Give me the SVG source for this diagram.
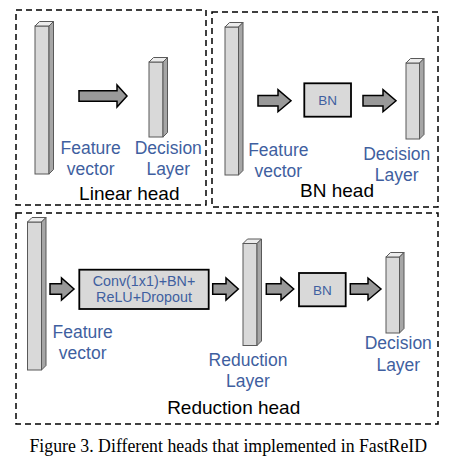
<svg xmlns="http://www.w3.org/2000/svg" width="460" height="471" viewBox="0 0 460 471">
<style>
.frame{fill:none;stroke:#000;stroke-width:1.5;stroke-dasharray:6 4}
.front{fill:#d9d9d9;stroke:#595959;stroke-width:1}
.top{fill:#ececec;stroke:#595959;stroke-width:1;stroke-linejoin:round}
.side{fill:#a6a6a6;stroke:#595959;stroke-width:1;stroke-linejoin:round}
.arrow{fill:#999;stroke:#000;stroke-width:1.5;stroke-linejoin:miter}
.box{fill:#d9d9d9;stroke:#000;stroke-width:1.8}
.lbl{font-family:"Liberation Sans",Arial,sans-serif;font-size:17.5px;fill:#3f5fa0;text-anchor:middle}
.inbox{font-family:"Liberation Sans",Arial,sans-serif;fill:#3f5fa0;text-anchor:middle}
.title{font-family:"Liberation Sans",Arial,sans-serif;font-size:19px;fill:#000;text-anchor:middle}
.cap{font-family:"Liberation Serif","Times New Roman",serif;font-size:17.8px;fill:#000;text-anchor:middle}
</style>
<rect class="frame" x="16" y="10" width="190" height="195"/>
<rect class="frame" x="212" y="12" width="226" height="195"/>
<rect class="frame" x="16" y="213" width="422" height="211"/>

<g id="linear-feature">
<rect class="front" x="35" y="26" width="14" height="148"/>
<polygon class="top" points="35,26 39.5,21.5 53.5,21.5 49,26"/>
<polygon class="side" points="49,26 53.5,21.5 53.5,169.5 49,174"/>
<text class="lbl" x="90.7" y="154">Feature</text>
<text class="lbl" x="90.7" y="175">vector</text>
</g>
<g id="linear-decision">
<rect class="front" x="149" y="62" width="14" height="75"/>
<polygon class="top" points="149,62 153.5,57.5 167.5,57.5 163,62"/>
<polygon class="side" points="163,62 167.5,57.5 167.5,132.5 163,137"/>
<text class="lbl" x="168.3" y="154">Decision</text>
<text class="lbl" x="168.3" y="175">Layer</text>
</g>
<text class="title" x="129.3" y="199.5">Linear head</text>

<g id="bn-feature">
<rect class="front" x="225" y="27" width="13.5" height="148"/>
<polygon class="top" points="225,27 229.5,22.5 243,22.5 238.5,27"/>
<polygon class="side" points="238.5,27 243,22.5 243,170.5 238.5,175"/>
<text class="lbl" x="278.3" y="156">Feature</text>
<text class="lbl" x="278.3" y="176.7">vector</text>
</g>
<g id="bn-bn">
<rect class="box" x="304.3" y="83.3" width="46.7" height="33.4"/>
<text class="inbox" x="327.7" y="104.5" font-size="13.5">BN</text>
</g>
<g id="bn-decision">
<rect class="front" x="406" y="63" width="13.5" height="76"/>
<polygon class="top" points="406,63 410.5,58.5 424,58.5 419.5,63"/>
<polygon class="side" points="419.5,63 424,58.5 424,134.5 419.5,139"/>
<text class="lbl" x="396.7" y="160">Decision</text>
<text class="lbl" x="396.7" y="180.7">Layer</text>
</g>
<text class="title" x="337" y="197.3">BN head</text>

<g id="red-feature">
<rect class="front" x="27.5" y="222" width="14" height="148"/>
<polygon class="top" points="27.5,222 32,217.5 46,217.5 41.5,222"/>
<polygon class="side" points="41.5,222 46,217.5 46,365.5 41.5,370"/>
<text class="lbl" x="82.7" y="337.7">Feature</text>
<text class="lbl" x="82.7" y="359">vector</text>
</g>
<g id="red-conv">
<rect class="box" x="79.3" y="269.7" width="129.4" height="39.3"/>
<text class="inbox" x="144" y="286.3" font-size="14.3">Conv(1x1)+BN+</text>
<text class="inbox" x="144" y="302.3" font-size="14.3">ReLU+Dropout</text>
</g>
<g id="red-reduction">
<rect class="front" x="243" y="243.5" width="14" height="102"/>
<polygon class="top" points="243,243.5 247.5,239 261.5,239 257,243.5"/>
<polygon class="side" points="257,243.5 261.5,239 261.5,341 257,345.5"/>
<text class="lbl" x="248" y="366">Reduction</text>
<text class="lbl" x="248" y="386.7">Layer</text>
</g>
<g id="red-bn">
<rect class="box" x="299" y="273" width="46.7" height="33.3"/>
<text class="inbox" x="322.3" y="294.5" font-size="13.5">BN</text>
</g>
<g id="red-decision">
<rect class="front" x="386" y="257" width="13.5" height="76"/>
<polygon class="top" points="386,257 390.5,252.5 404,252.5 399.5,257"/>
<polygon class="side" points="399.5,257 404,252.5 404,328.5 399.5,333"/>
<text class="lbl" x="398.3" y="349">Decision</text>
<text class="lbl" x="398.3" y="371">Layer</text>
</g>
<text class="title" x="233.7" y="414">Reduction head</text>

<g id="connectors">
<path class="arrow" d="M79,90.7 H117 V85 L127,96 L117,107 V101.3 H79 Z"/>
<path class="arrow" d="M258,95.4 H278 V89.7 L291,100.7 L278,111.7 V106 H258 Z"/>
<path class="arrow" d="M363,95.4 H383 V89.7 L396,100.7 L383,111.7 V106 H363 Z"/>
<path class="arrow" d="M50,283.7 H61.5 V278 L74,289 L61.5,300 V294.3 H50 Z"/>
<path class="arrow" d="M212.7,283.7 H226 V278 L238.3,289 L226,300 V294.3 H212.7 Z"/>
<path class="arrow" d="M266.3,283.7 H281 V278 L293.7,289 L281,300 V294.3 H266.3 Z"/>
<path class="arrow" d="M350.3,283.7 H368 V278 L381,289 L368,300 V294.3 H350.3 Z"/>
</g>

<text class="cap" x="228.3" y="452">Figure 3. Different heads that implemented in FastReID</text>
</svg>
